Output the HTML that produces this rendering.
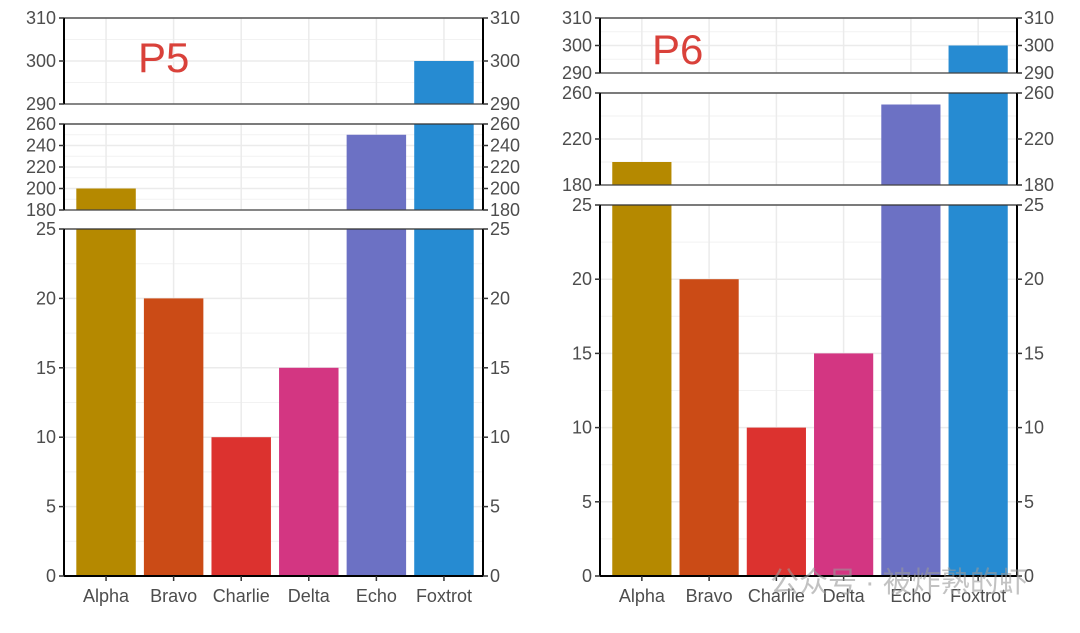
<!DOCTYPE html>
<html><head><meta charset="utf-8"><style>
html,body{margin:0;padding:0;background:#fff;}
svg text{font-family:"Liberation Sans",sans-serif;}
</style></head><body>
<svg id="chart" width="1080" height="628" xmlns="http://www.w3.org/2000/svg"></svg>
<script>
const categories = ["Alpha","Bravo","Charlie","Delta","Echo","Foxtrot"];
const values = [200,20,10,15,250,300];
const colors = ["#B58900","#CB4B16","#DC322F","#D33682","#6C71C4","#268BD2"];
const p5Segments = [[0,25],[180,260],[290,310]];
const p5Ticks = [[0,5,10,15,20,25],[180,200,220,240,260],[290,300,310]];
const p6Segments = [[0,25],[180,260],[290,310]];
const p6Ticks = [[0,5,10,15,20,25],[180,220,260],[290,300,310]];

const NS="http://www.w3.org/2000/svg";
const svg=document.getElementById('chart');
function mk(tag,attrs,parent){const e=document.createElementNS(NS,tag);for(const k in attrs)e.setAttribute(k,attrs[k]);(parent||svg).appendChild(e);return e;}

function drawPanel(name,x0,x1,segs,ticks,pix,title,tx,ty){
  const g=mk('g',{});
  
  
  const n=categories.length, unit=(x1-x0)/(n-1+1.2);
  const xc=i=>x0+1.5+unit*(0.6+i), bw=unit*0.88;
  segs.forEach((s,si)=>{
    const [ybot,ytop]=pix[si];
    const y=v=>ybot-(v-s[0])/(s[1]-s[0])*(ybot-ytop);
    const sg=mk('g',{},g);
    
    
    const tk=ticks[si];
    for(let k=0;k<tk.length-1;k++){const m=(tk[k]+tk[k+1])/2;mk('line',{x1:x0,x2:x1,y1:y(m),y2:y(m),stroke:'#f2f2f2','stroke-width':1},sg);}
    tk.forEach(t=>mk('line',{x1:x0,x2:x1,y1:y(t),y2:y(t),stroke:'#ebebeb','stroke-width':1.5},sg));
    categories.forEach((c,i)=>mk('line',{x1:xc(i),x2:xc(i),y1:ytop,y2:ybot,stroke:'#ebebeb','stroke-width':1.5},sg));
    categories.forEach((c,i)=>{
      const v=values[i]; if(v<=s[0])return;
      const top=Math.max(y(Math.min(v,s[1])),ytop);
      const r=mk('rect',{x:xc(i)-bw/2,y:top,width:bw,height:ybot-top,fill:colors[i]},sg);
      
      
    });
    mk('line',{x1:x0,x2:x1,y1:ytop,y2:ytop,stroke:'#333','stroke-width':1.3},sg);
    mk('line',{x1:x0,x2:x1,y1:ybot,y2:ybot,stroke:si==0?'#000':'#444','stroke-width':si==0?2:1.3},sg);
    mk('line',{x1:x0,x2:x0,y1:ytop,y2:ybot,stroke:'#000','stroke-width':2},sg);
    mk('line',{x1:x1,x2:x1,y1:ytop,y2:ybot,stroke:'#000','stroke-width':2},sg);
    tk.forEach(t=>{
      mk('line',{x1:x0-5,x2:x0,y1:y(t),y2:y(t),stroke:'#333','stroke-width':1.5},sg);
      mk('line',{x1:x1,x2:x1+5,y1:y(t),y2:y(t),stroke:'#333','stroke-width':1.5},sg);
      const l=mk('text',{x:x0-8,y:y(t)+6,'text-anchor':'end','font-size':18,fill:'#4d4d4d'},sg);l.textContent=t;
      
      
      const r=mk('text',{x:x1+7,y:y(t)+6,'font-size':18,fill:'#4d4d4d'},sg);r.textContent=t;
      
      
    });
  });
  const yb=pix[0][0];
  categories.forEach((c,i)=>{
    mk('line',{x1:xc(i),x2:xc(i),y1:yb,y2:yb+5,stroke:'#333','stroke-width':1.5},g);
    const t=mk('text',{x:xc(i),y:yb+26,'text-anchor':'middle','font-size':18,fill:'#4d4d4d'},g);t.textContent=c;
    
    
  });
  const tt=mk('text',{x:tx,y:ty,'font-size':42,fill:'#D9413A'},g);tt.textContent=title;
  
  
}
drawPanel('chart-p5',64,483,p5Segments,p5Ticks,[[576,229],[210,124],[104,18]],'P5',138,72);
drawPanel('chart-p6',600,1017,p6Segments,p6Ticks,[[576,205],[185,93],[73,18]],'P6',652,64);
const wm=mk('text',{x:770,y:592,'font-size':29,fill:'#999','fill-opacity':0.6});
wm.setAttribute('style','font-family:"Liberation Sans","Noto Sans CJK SC",sans-serif');
wm.textContent='公众号 · 被炸熟的虾';


</script>
</body></html>
